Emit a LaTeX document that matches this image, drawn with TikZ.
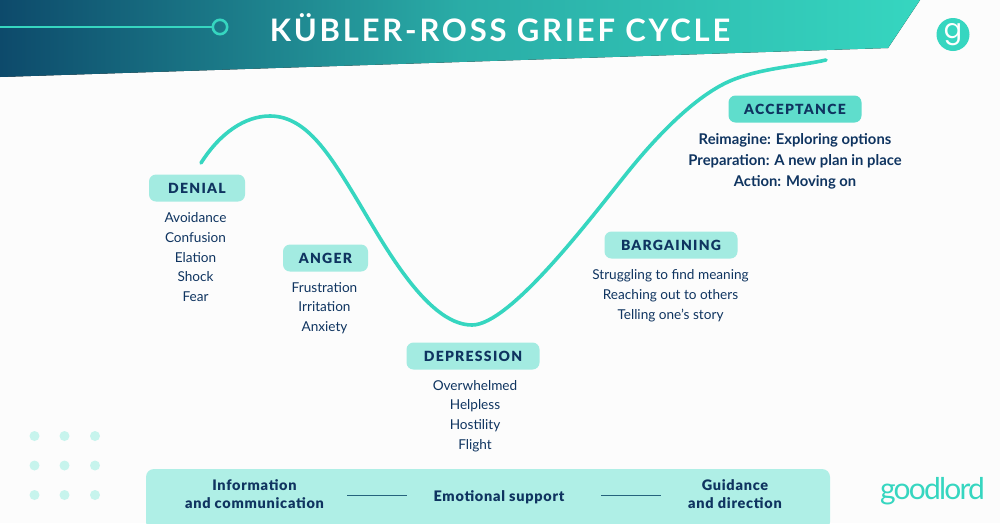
\documentclass[tikz,border=0pt]{standalone}
\usepackage{fontspec}
\setmainfont{Lato}
\newfontfamily\headf[LetterSpace=9]{Lato}[UprightFont=*-Bold]
\newfontfamily\tagf[LetterSpace=9]{Lato Black}
\newfontfamily\boldf{Lato}[UprightFont=*-Bold]
\newfontfamily\barf[LetterSpace=5]{Lato}[UprightFont=*-Black]
\newfontfamily\logof[LetterSpace=-6]{Lato}
\newfontfamily\badgef{Poppins}
\usetikzlibrary{shadings}
\definecolor{teal}{HTML}{36D6C0}
\definecolor{navy}{HTML}{0F3460}
\definecolor{pale}{HTML}{AFEFE6}
\definecolor{tagc}{HTML}{A3EBE1}
\definecolor{mid}{HTML}{5FDDCC}
\definecolor{dark}{HTML}{0D4A6B}
\tikzset{
  x=1pt,y=-1pt,
  tagbox/.style={rounded corners=7pt,fill=tagc,text=navy,font=\tagf\fontsize{14}{14}\selectfont,inner xsep=0pt,inner ysep=0pt,minimum height=27pt,align=center},
  itemlist/.style={text=navy,align=center,font=\fontsize{13.6}{19.7}\selectfont,anchor=north,inner sep=0pt},
  barlabel/.style={text=navy,align=center,font=\barf\fontsize{14.5}{18}\selectfont,inner sep=0pt},
  rulebar/.style={draw=dark!85!pale,line width=1pt},
  dot/.style={circle,fill=pale!70!white,inner sep=0pt,minimum size=10pt}
}
\begin{document}
\begin{tikzpicture}
\useasboundingbox (0,0) rectangle (1000,523);
\fill[white!99!black] (0,0) rectangle (1000,523);
% banner
\fill[left color=dark,right color=teal,shading angle=90,middle color=teal!70!dark] (0,0) -- (920,0) -- (888,48) -- (0,77) -- cycle;
\coordinate (lineA) at (0,27);
\node[circle,draw=teal,line width=2.6pt,minimum size=14.4pt,inner sep=0pt] (ring) at (220,27) {};
\draw[teal,line width=2.4pt] (lineA) -- (ring);
\node[text=white,font=\headf\fontsize{31}{31}\selectfont,inner sep=0pt] (title) at (500,28) {KÜBLER-ROSS GRIEF CYCLE};
% logo badge
\node[circle,fill=teal,minimum size=33pt,inner sep=0pt,text=white,font=\badgef\fontsize{27}{27}\selectfont] (badge) at (953,34.5) {g};
% curve
\draw[teal,line width=3.6pt,line cap=round] (201,163)
  .. controls (220,133) and (245,116) .. (270,116)
  .. controls (305,116) and (328,152) .. (353,193)
  .. controls (380,237) and (425,325) .. (472,325)
  .. controls (510,325) and (590,219) .. (627,173)
  .. controls (664,127) and (700,94) .. (730,81)
  .. controls (760,68) and (800,66) .. (826,60);
% tags
\node[tagbox,minimum width=96pt,anchor=center] (denial) at (197,188) {DENIAL};
\node[itemlist] (denialT) at (195.5,212.5) {Avoidance\\Confusion\\Elation\\Shock\\Fear};
\node[tagbox,minimum width=85pt] (anger) at (325.5,258) {ANGER};
\node[itemlist] (angerT) at (324.5,282) {Frustration\\Irritation\\Anxiety};
\node[tagbox,minimum width=133pt] (depr) at (473,356) {DEPRESSION};
\node[itemlist] (deprT) at (475,380) {Overwhelmed\\Helpless\\Hostility\\Flight};
\node[tagbox,minimum width=133pt] (barg) at (671,245) {BARGAINING};
\node[itemlist] (bargT) at (670.5,269.5) {Struggling to find meaning\\Reaching out to others\\Telling one’s story};
\node[tagbox,minimum width=133pt,fill=mid] (acc) at (795,109) {ACCEPTANCE};
\node[itemlist,font=\boldf\fontsize{14.8}{20.8}\selectfont] (accT) at (795,133.5) {Reimagine: Exploring options\\Preparation: A new plan in place\\Action: Moving on};
% bottom bar
\fill[pale,rounded corners=8pt] (146,469) rectangle (830,530);
\node[barlabel] (info) at (254.5,494) {Information\\and communication};
\node[barlabel] (emo) at (499,497) {Emotional support};
\node[barlabel] (guid) at (735,494) {Guidance\\and direction};
\coordinate (r1a) at (347,495.5); \coordinate (r1b) at (407,495.5);
\coordinate (r2a) at (601,495.5); \coordinate (r2b) at (661,495.5);
\draw[rulebar] (r1a) -- (r1b);
\draw[rulebar] (r2a) -- (r2b);
% dots
\foreach \x/\xn in {34.5/a,64.5/b,95/c}
  \foreach \y/\yn in {436/a,465.5/b,495/c}
    \node[dot] (d\xn\yn) at (\x,\y) {};
% logo
\node[text=teal,font=\logof\fontsize{30}{30}\selectfont,inner sep=0pt] (logo) at (932.5,491) {goodlord};
\end{tikzpicture}
\end{document}
